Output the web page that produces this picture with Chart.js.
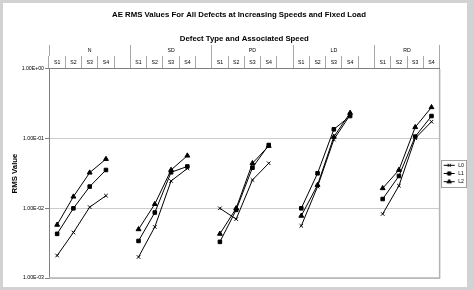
<!DOCTYPE html>
<html lang="en">
<head>
<meta charset="UTF-8">
<title>AE RMS Values</title>
<script src="https://cdn.jsdelivr.net/npm/chart.js"></script>
<style>
  body { margin: 0; background: #fff; }
  #wrap { width: 474px; height: 290px; }
</style>
</head>
<body>
<div id="wrap"><canvas id="rms-chart" width="474" height="290"></canvas></div>
<script>
const groups = ["N", "SD", "PD", "LD", "RD"];
const speeds = ["S1", "S2", "S3", "S4"];
const yTicks = [0.001, 0.01, 0.1, 1];

// RMS values, 4 speeds per defect group (N, SD, PD, LD, RD)
const rmsL0 = [0.0021, 0.0045, 0.0104, 0.0152,  0.0020, 0.0054, 0.0247, 0.0373,  0.0100, 0.0070, 0.0255, 0.0443,  0.0056, 0.0205, 0.097, 0.219,  0.0083, 0.0211, 0.101, 0.175];
const rmsL1 = [0.0043, 0.0100, 0.0205, 0.0355,  0.0034, 0.0087, 0.0329, 0.0399,  0.0033, 0.0095, 0.0383, 0.081,  0.0100, 0.0318, 0.136, 0.211,  0.0136, 0.0291, 0.107, 0.211];
const rmsL2 = [0.0058, 0.0147, 0.0325, 0.0510,  0.0050, 0.0115, 0.0355, 0.057,  0.0043, 0.0100, 0.0443, 0.0785,  0.0078, 0.0216, 0.106, 0.234,  0.0194, 0.0355, 0.146, 0.282];

const FONT = "'Liberation Sans', Arial, sans-serif";

// one empty slot after every group except the last
const labels = [];
groups.forEach((g, i) => {
    speeds.forEach(s => labels.push(s));
    if (i < groups.length - 1) labels.push("");
});

function withGaps(vals) {
    const out = [];
    groups.forEach((g, i) => {
        for (let k = 0; k < speeds.length; k++) out.push(vals[i * speeds.length + k]);
        if (i < groups.length - 1) out.push(null);
    });
    return out;
}

// group centres / separators in slot units
const groupCenters = [];
const groupEdges = [-0.5];
let slot = 0;
groups.forEach((g, i) => {
    const n = i < groups.length - 1 ? speeds.length + 1 : speeds.length;
    groupCenters.push(slot + (n - 1) / 2);
    slot += n;
    groupEdges.push(slot - 0.5);
});

function sci(v) {
    const e = Math.round(Math.log10(v));
    const m = v / Math.pow(10, e);
    return m.toFixed(2) + "E" + (e < 0 ? "-" : "+") + String(Math.abs(e)).padStart(2, "0");
}

function legendIcon(style, r) {
    const c = document.createElement("canvas");
    c.width = 13; c.height = 7;
    const g = c.getContext("2d");
    g.strokeStyle = "#000"; g.fillStyle = "#000"; g.lineWidth = 1;
    g.beginPath(); g.moveTo(1, 3.5); g.lineTo(12, 3.5); g.stroke();
    Chart.helpers.drawPoint(g, {pointStyle: style, radius: r, borderWidth: 1}, 6.5, 3.5);
    return c;
}

const markers = [["crossRot", 2.5], ["rect", 2.5], ["triangle", 2.8]];

const framePlugin = {
    id: "frame",
    beforeDraw(chart) {
        const ctx = chart.ctx;
        ctx.save();
        ctx.fillStyle = "#d2d2d2";
        ctx.fillRect(0, 0, chart.width, chart.height);
        ctx.fillStyle = "#fff";
        ctx.fillRect(3, 3, 464, 284);
        ctx.restore();
    },
    afterDraw(chart) {
        const ctx = chart.ctx, a = chart.chartArea;
        ctx.save();
        ctx.strokeStyle = "#b4b4b4";
        ctx.lineWidth = 1.5;
        ctx.beginPath();
        ctx.moveTo(a.right, a.top); ctx.lineTo(a.right, a.bottom); ctx.lineTo(a.left, a.bottom);
        ctx.stroke();
        // legend box
        const hb = chart.legend.legendHitBoxes;
        if (hb && hb.length) {
            const x0 = Math.min(...hb.map(h => h.left)) - 2;
            const x1 = Math.max(...hb.map(h => h.left + h.width)) + 2;
            const y0 = hb[0].top - 2.5;
            const y1 = hb[hb.length - 1].top + hb[hb.length - 1].height + 2.5;
            ctx.strokeStyle = "#a0a0a0";
            ctx.lineWidth = 1;
            ctx.strokeRect(Math.round(x0) + 0.5, Math.round(y0) + 0.5, Math.round(x1 - x0), Math.round(y1 - y0));
        }
        ctx.restore();
    }
};

function series(label, vals, i) {
    return {
        label: label,
        data: withGaps(vals),
        borderColor: "#000",
        backgroundColor: "#000",
        borderWidth: 1,
        pointStyle: markers[i][0],
        pointRadius: markers[i][1],
        pointBorderWidth: 1,
        tension: 0,
        spanGaps: false
    };
}

new Chart(document.getElementById("rms-chart"), {
    type: "line",
    data: {
        labels: labels,
        datasets: [series("L0", rmsL0, 0), series("L1", rmsL1, 1), series("L2", rmsL2, 2)]
    },
    options: {
        responsive: false,
        animation: false,
        events: [],
        layout: { padding: { left: 4, right: 0, top: 0, bottom: 12 } },
        plugins: {
            title: {
                display: true,
                text: "AE RMS Values For All Defects at Increasing Speeds and Fixed Load",
                color: "#000",
                font: { family: FONT, size: 7.8, weight: "bold" },
                padding: { top: 10, bottom: 13.6 }
            },
            legend: {
                position: "right",
                align: "center",
                fullSize: false,
                labels: {
                    usePointStyle: true,
                    pointStyleWidth: 13,
                    color: "#000",
                    padding: 3,
                    font: { family: FONT, size: 5.2 },
                    generateLabels: chart => chart.data.datasets.map((ds, i) => ({
                        text: ds.label,
                        pointStyle: legendIcon(markers[i][0], markers[i][1] * 0.9),
                        fillStyle: "#000",
                        strokeStyle: "#000",
                        lineWidth: 0,
                        hidden: false,
                        datasetIndex: i
                    }))
                }
            },
            tooltip: { enabled: false }
        },
        scales: {
            x: {
                type: "category",
                position: "top",
                offset: true,
                weight: 0,
                afterFit: axis => { axis.height = 13; },
                border: { display: true, color: "#808080" },
                grid: { offset: true, drawOnChartArea: false, tickLength: 13, color: "#a8a8a8" },
                ticks: {
                    autoSkip: false, maxRotation: 0, padding: -10,
                    color: "#000", font: { family: FONT, size: 5.2 }
                }
            },
            x2: {
                type: "linear",
                position: "top",
                weight: 1,
                min: -0.5,
                max: labels.length - 0.5,
                afterFit: axis => { axis.height = 23; },
                afterBuildTicks: axis => {
                    axis.ticks = groupEdges.concat(groupCenters).sort((a, b) => a - b).map(v => ({ value: v }));
                },
                border: { display: false },
                grid: {
                    drawOnChartArea: false,
                    tickLength: 11,
                    color: c => (c.tick && groupCenters.includes(c.tick.value)) ? "rgba(0,0,0,0)" : "#a8a8a8"
                },
                ticks: {
                    autoSkip: false, maxRotation: 0, padding: -9,
                    color: "#000", font: { family: FONT, size: 5.2 },
                    callback: v => {
                        const k = groupCenters.indexOf(v);
                        return k >= 0 ? groups[k] : "";
                    }
                },
                title: {
                    display: true,
                    text: "Defect Type and Associated Speed",
                    color: "#000",
                    font: { family: FONT, size: 7.8, weight: "bold" },
                    padding: { top: 1, bottom: 0 }
                }
            },
            y: {
                type: "logarithmic",
                min: 0.001,
                max: 1,
                afterFit: axis => { axis.width = 45; },
                afterBuildTicks: axis => { axis.ticks = yTicks.map(v => ({ value: v })); },
                border: { display: true, color: "#808080" },
                grid: { color: "#cccccc", tickColor: "#808080", tickLength: 4 },
                ticks: {
                    padding: 1,
                    color: "#000",
                    font: { family: FONT, size: 5.2 },
                    callback: v => sci(v)
                },
                title: {
                    display: true,
                    text: "RMS Value",
                    color: "#000",
                    font: { family: FONT, size: 7.8, weight: "bold" },
                    padding: { top: 6, bottom: 0 }
                }
            }
        }
    },
    plugins: [framePlugin]
});
</script>
</body>
</html>
